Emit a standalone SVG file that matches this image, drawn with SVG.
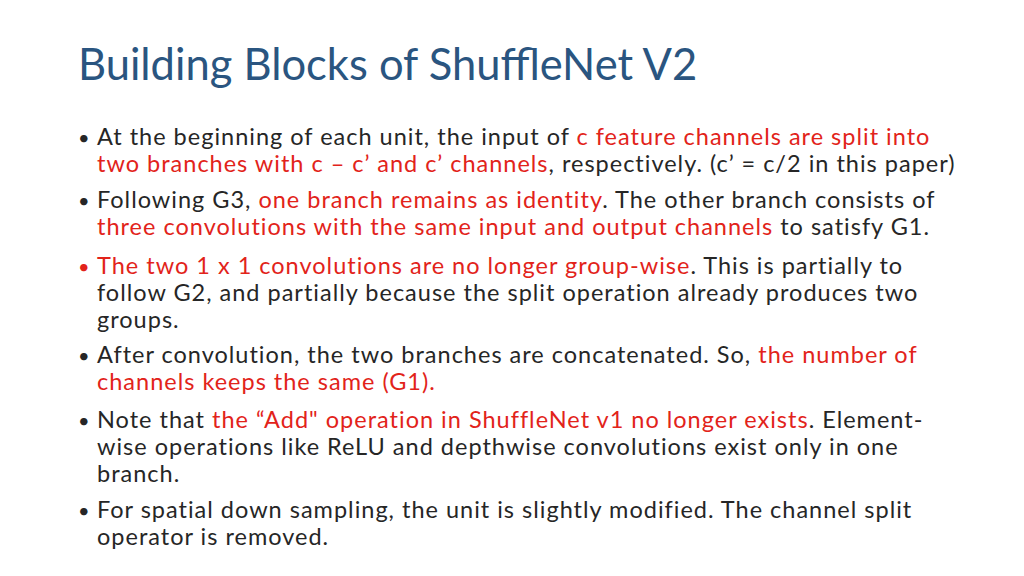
<svg xmlns="http://www.w3.org/2000/svg" width="1024" height="576" viewBox="0 0 1024 576">
<style>
.t{font-family:Lato,"Open Sans",sans-serif;font-size:23.5px;letter-spacing:1px;fill:#262626}
.b{font-size:20px;letter-spacing:0}
.r{fill:#e2231a}
.h{font-family:Lato,"Open Sans",sans-serif;font-size:43.5px;fill:#2a5580}
</style>
<rect width="1024" height="576" fill="#fff"/>
<text class="h" x="78" y="80">Building Blocks of ShuffleNet V2</text>
<g class="t">
<text class="b" x="78" y="145">•</text>
<text x="97" y="145">At the beginning of each unit, the input of <tspan class="r">c feature channels are split into</tspan></text>
<text x="97" y="172"><tspan class="r">two branches with c – c’ and c’ channels</tspan>, respectively. (c’ = c/2 in this paper)</text>
<text class="b" x="78" y="208">•</text>
<text x="97" y="208">Following G3, <tspan class="r">one branch remains as identity</tspan>. The other branch consists of</text>
<text x="97" y="235"><tspan class="r">three convolutions with the same input and output channels</tspan> to satisfy G1.</text>
<text x="78" y="274" class="b r">•</text>
<text x="97" y="274"><tspan class="r">The two 1 x 1 convolutions are no longer group-wise</tspan>. This is partially to</text>
<text x="97" y="301">follow G2, and partially because the split operation already produces two</text>
<text x="97" y="328">groups.</text>
<text class="b" x="78" y="363">•</text>
<text x="97" y="363">After convolution, the two branches are concatenated. So, <tspan class="r">the number of</tspan></text>
<text x="97" y="390" class="r">channels keeps the same (G1).</text>
<text class="b" x="78" y="428">•</text>
<text x="97" y="428">Note that <tspan class="r">the “Add" operation in ShuffleNet v1 no longer exists</tspan>. Element-</text>
<text x="97" y="455">wise operations like ReLU and depthwise convolutions exist only in one</text>
<text x="97" y="482">branch.</text>
<text class="b" x="78" y="518">•</text>
<text x="97" y="518">For spatial down sampling, the unit is slightly modified. The channel split</text>
<text x="97" y="545">operator is removed.</text>
</g>
</svg>
